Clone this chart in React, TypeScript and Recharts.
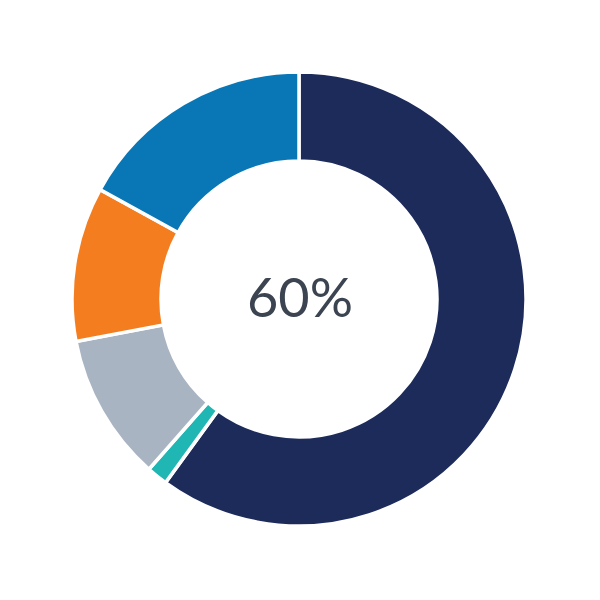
import React from 'react'
import { PieChart, Pie, Cell } from 'recharts'

const segments = ['Navy', 'Teal', 'Gray', 'Orange', 'Blue']
const shares = [60, 1.5, 10.5, 11, 17]
const colors = ['#1c2b5a', '#20b6b4', '#a9b4c3', '#f47d20', '#0977b6']
const centerLabel = '60%'

const data = segments.map((name, i) => ({ name, value: shares[i] }))

// centre chosen so the ring lands at about 299,299 in the screenshot
const CX = 286
const CY = 286

export default function App() {
  return (
    <PieChart width={592} height={592}>
      <Pie
        data={data}
        dataKey="value"
        cx={CX}
        cy={CY}
        innerRadius={138}
        outerRadius={227}
        startAngle={90}
        endAngle={-270}
        stroke="#ffffff"
        strokeWidth={3.5}
        isAnimationActive={false}
      >
        {data.map((d, i) => (
          <Cell key={d.name} fill={colors[i]} />
        ))}
      </Pie>
      <text
        x={CX + 6}
        y={CY + 2}
        textAnchor="middle"
        dominantBaseline="central"
        fontFamily="Lato"
        fontWeight={400}
        fontSize={54}
        fill="#3b4450"
      >
        {centerLabel}
      </text>
    </PieChart>
  )
}
